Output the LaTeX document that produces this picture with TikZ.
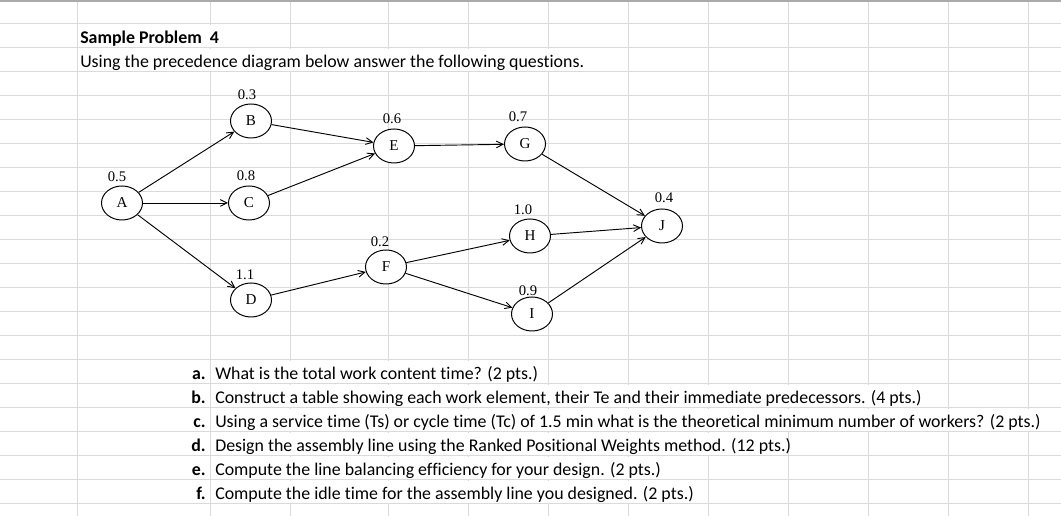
\documentclass[tikz,border=0pt]{standalone}
\usepackage{fontspec}
\setmainfont{Carlito}[Ligatures=NoCommon]
\newfontfamily\diagfont{Liberation Serif}
\usetikzlibrary{shapes.geometric,arrows.meta}
\definecolor{gridgray}{RGB}{218,218,218}
\definecolor{headgray}{RGB}{170,170,170}
\tikzset{
    task/.style={ellipse, draw, fill=white, line width=0.75pt, minimum width=30.75pt, minimum height=25.5pt, inner sep=0pt, font=\diagfont\fontsize{11.3}{13}\selectfont},
    ttime/.style={inner sep=0pt, font=\diagfont\fontsize{11}{13}\selectfont},
    prec/.style={line width=0.7pt, arrows=-{Straight Barb[length=5pt,width=5pt]}},
    sheet/.style={inner sep=0pt, anchor=base west, font=\fontsize{13.4}{16}\selectfont},
}
\begin{document}
\begin{tikzpicture}[x=0.75pt, y=-0.75pt]
    \useasboundingbox (0,0) rectangle (1061,516);
    
    % cell grid
    \foreach \y in {24,48,...,504}
        \draw[gridgray, line width=0.75pt] (0,\y) -- (1061,\y);
    \foreach \x in {77,210,290,388,468,548,628,708,788,868,948,1028}
        \draw[gridgray, line width=0.75pt] (\x,0) -- (\x,516);
    \draw[headgray, line width=1.2pt] (0,0.8) -- (1061,0.8);
    
    % text running over the cell borders
    \fill[white] (200,25) rectangle (222,47);
    \fill[white] (78,49) rectangle (600,71);
    \fill[white] (212,361) rectangle (540,383);
    \fill[white] (212,385) rectangle (925,407);
    \fill[white] (212,409) rectangle (1045,431);
    \fill[white] (212,433) rectangle (775,455);
    \fill[white] (212,457) rectangle (662,479);
    \fill[white] (212,481) rectangle (692,503);
    
    \node[sheet] (title) at (80,43.3) {\bfseries Sample Problem\ \ 4};
    \node[sheet] (intro) at (80,67.5) {Using the precedence diagram below answer the following questions.};
    
    \node[task] (A) at (122,203) {A};
    \node[task] (B) at (251,121) {B};
    \node[task] (C) at (249,203) {C};
    \node[task] (D) at (251,300) {D};
    \node[task] (E) at (394,146) {E};
    \node[task] (F) at (386,267) {F};
    \node[task] (G) at (525,144) {G};
    \node[task] (H) at (530,236) {H};
    \node[task] (I) at (532,314) {I};
    \node[task] (J) at (662,226) {J};
    
    \node[ttime] (tA) at (117,177) {0.5};
    \node[ttime] (tB) at (247,95) {0.3};
    \node[ttime] (tC) at (246,176) {0.8};
    \node[ttime] (tD) at (245,275) {1.1};
    \node[ttime] (tE) at (392,119) {0.6};
    \node[ttime] (tF) at (380,242) {0.2};
    \node[ttime] (tG) at (518,117) {0.7};
    \node[ttime] (tH) at (523,210) {1.0};
    \node[ttime] (tI) at (528,291) {0.9};
    \node[ttime] (tJ) at (664,198) {0.4};
    
    \draw[prec] (A) -- (B);
    \draw[prec] (A) -- (C);
    \draw[prec] (A) -- (D);
    \draw[prec] (B) -- (E);
    \draw[prec] (C) -- (E);
    \draw[prec] (D) -- (F);
    \draw[prec] (E) -- (G);
    \draw[prec] (F) -- (H);
    \draw[prec] (F) -- (I);
    \draw[prec] (G) -- (J);
    \draw[prec] (H) -- (J);
    \draw[prec] (I) -- (J);
    
%    \node[sheet, anchor=base east] at (206,379.5) {\bfseries a.};
    \node[sheet, anchor=base east] (la) at (206,379.5) {\bfseries a.};
    \node[sheet, anchor=base east] (lb) at (206,403.5) {\bfseries b.};
    \node[sheet, anchor=base east] (lc) at (206,427.5) {\bfseries c.};
    \node[sheet, anchor=base east] (ld) at (206,451.5) {\bfseries d.};
    \node[sheet, anchor=base east] (le) at (206,475.5) {\bfseries e.};
    \node[sheet, anchor=base east] (lf) at (206,499.5) {\bfseries f.};
    \node[sheet] (qa) at (215,379.5) {What is the total work content time? (2 pts.)};
    \node[sheet] (qb) at (215,403.5) {Construct a table showing each work element, their Te and their immediate predecessors. (4 pts.)};
    \node[sheet] (qc) at (215,427.5) {Using a service time (Ts) or cycle time (Tc) of 1.5 min what is the theoretical minimum number of workers? (2 pts.)};
    \node[sheet] (qd) at (215,451.5) {Design the assembly line using the Ranked Positional Weights method. (12 pts.)};
    \node[sheet] (qe) at (215,475.5) {Compute the line balancing efficiency for your design. (2 pts.)};
    \node[sheet] (qf) at (215,499.5) {Compute the idle time for the assembly line you designed. (2 pts.)};
    
\end{tikzpicture}
\end{document}
